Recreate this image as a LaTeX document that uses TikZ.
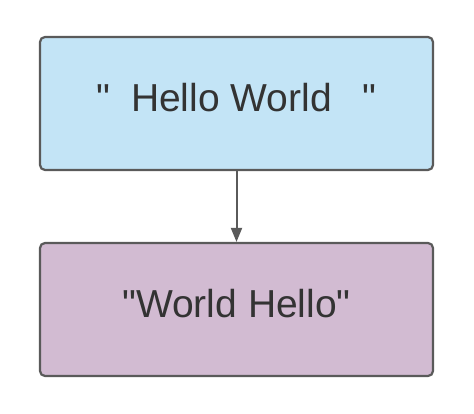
\documentclass[tikz,border=0pt]{standalone}
\usepackage{fontspec}
\setmainfont{Liberation Sans}
\newfontfamily\lib{Liberation Sans}
\usetikzlibrary{arrows.meta}
\definecolor{topfill}{HTML}{C3E4F6}
\definecolor{botfill}{HTML}{D2BBD2}
\definecolor{edge}{HTML}{5A5A5A}
\definecolor{txt}{HTML}{333333}
\newcommand{\dq}{\symbol{34}}
\begin{document}
\begin{tikzpicture}[x=1pt,y=-1pt,
  box/.style={draw=edge, line width=2.2pt, rounded corners=5pt, minimum width=393pt, minimum height=133pt, inner sep=0pt},
  lbl/.style={anchor=base, text=txt, inner sep=0pt, font=\lib\fontsize{39}{39}\selectfont},
  conn/.style={draw=edge, line width=2pt, -{Triangle[length=14pt,width=11pt]}}]
\useasboundingbox[fill=white] (0,0) rectangle (474,414);
\node[box, fill=topfill] (a) at (236.5,103.5) {};
\node[box, fill=botfill] (b) at (236.5,309.5) {};
\node[lbl] (ta) at (236.5,112) {\dq\hspace{21pt}Hello World\hspace{31pt}\dq};
\node[lbl] (tb) at (236.5,317) {\dq World Hello\dq};
\draw[conn] (a.south) -- (b.north);
\end{tikzpicture}
\end{document}
